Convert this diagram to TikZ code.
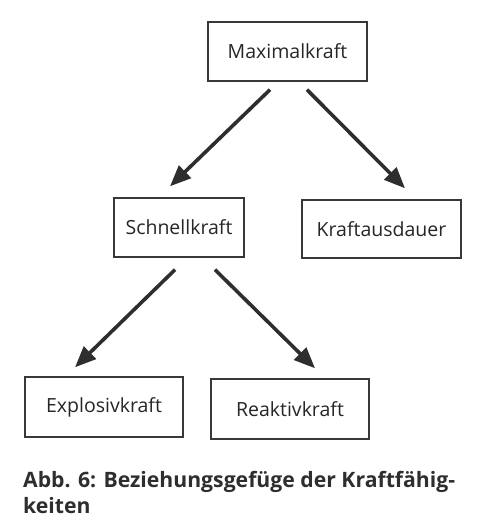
\documentclass[tikz,border=0pt]{standalone}
\usepackage{fontspec}
\setmainfont{Open Sans}
\usetikzlibrary{arrows.meta}

\begin{document}
\begin{tikzpicture}[
		x=1pt, y=1pt,
		kbox/.style={draw=black!78, line width=1.4pt, fill=white, inner sep=0pt, font=\fontsize{19.5}{22}\selectfont, text=black!85},
		karrow/.style={line width=3.6pt, black!82, -{Triangle[length=21pt,width=17pt]}}
	]

		\useasboundingbox (0,0) rectangle (480,528);

		% top level
		\node[kbox, minimum width=159pt, minimum height=59pt] (max) at (287.5,476.5) {Maximalkraft};

		% second level
		\node[kbox, minimum width=130pt, minimum height=59pt] (schnell) at (179,300.5) {Schnellkraft};
		\node[kbox, minimum width=159pt, minimum height=58pt] (ausdauer) at (381.5,299) {Kraftausdauer};

		% third level
		\node[kbox, minimum width=158pt, minimum height=60pt] (explosiv) at (104,121) {Explosivkraft};
		\node[kbox, minimum width=158pt, minimum height=60pt] (reaktiv) at (290,119) {Reaktivkraft};

		% arrows
		\draw[karrow] ([xshift=-17.5pt,yshift=-8pt]max.south) -- ([xshift=-9pt,yshift=11pt]schnell.north);
		\draw[karrow] ([xshift=19.5pt,yshift=-8pt]max.south) -- ([xshift=23.5pt,yshift=11pt]ausdauer.north);
		\draw[karrow] ([xshift=-4pt,yshift=-12pt]schnell.south) -- ([xshift=-29pt,yshift=9pt]explosiv.north);
		\draw[karrow] ([xshift=36pt,yshift=-12pt]schnell.south) -- ([xshift=25pt,yshift=10pt]reaktiv.north);

		% caption (base is the last line)
		\node[anchor=base west, inner sep=0pt, align=left, text=black!82, font=\bfseries\fontsize{21.2}{27}\selectfont] (caption) at (23,14) {Abb. 6: Beziehungsgefüge der Kraftfähig-\\keiten};

	\end{tikzpicture}
\end{document}
